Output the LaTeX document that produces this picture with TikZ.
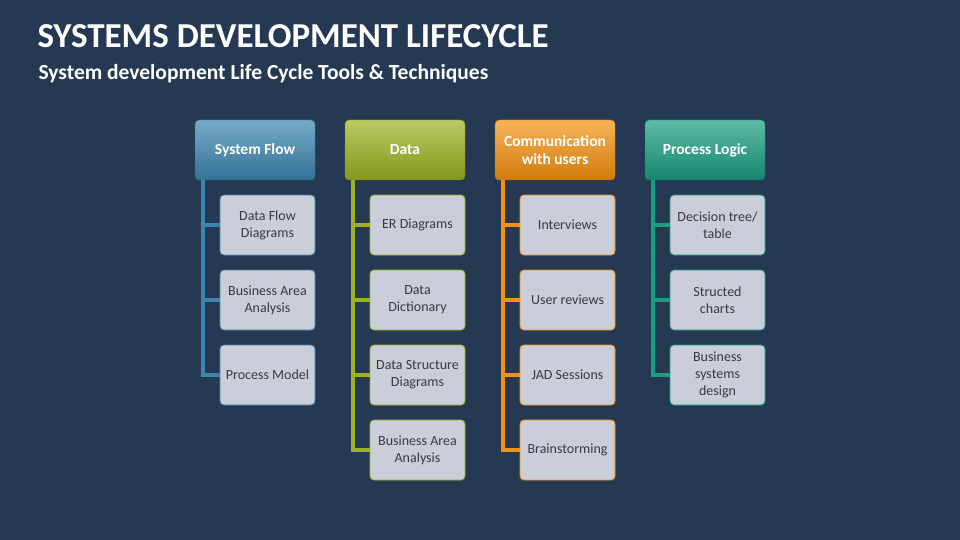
\documentclass[tikz,border=0pt]{standalone}
\usepackage{fontspec}
\setmainfont{Carlito}
\definecolor{bg}{HTML}{253A52}
\definecolor{cA}{HTML}{3D86B0}
\definecolor{cB}{HTML}{9BB321}
\definecolor{cC}{HTML}{F5920F}
\definecolor{cD}{HTML}{1A9E80}
\definecolor{kid}{HTML}{C9CED8}
\definecolor{kidtxt}{HTML}{3A3A3A}
\begin{document}
\begin{tikzpicture}[x=1pt,y=-1pt,
  head/.style={rounded corners=4pt,minimum width=120pt,minimum height=60pt,align=center,
    text=white,font=\bfseries\fontsize{15.5}{18}\selectfont,inner sep=2pt},
  kidbox/.style={rounded corners=4pt,fill=kid,minimum width=95pt,minimum height=60pt,
    align=center,text=kidtxt,font=\fontsize{14}{17}\selectfont,line width=0.8pt,inner sep=2pt},
  conn/.style={line width=4pt}]
\fill[bg] (0,0) rectangle (960,540);
\node[anchor=west,text=white,font=\bfseries\fontsize{35}{38}\selectfont] (title) at (34,36) {SYSTEMS DEVELOPMENT LIFECYCLE};
\node[anchor=west,text=white,font=\bfseries\fontsize{21.5}{25}\selectfont] (sub) at (35,74) {System development Life Cycle Tools \& Techniques};
\foreach \col/\x/\h/\items in {
  cA/195/System Flow/{Data Flow\\Diagrams,Business Area\\Analysis,Process Model},
  cB/345/Data/{ER Diagrams,Data\\Dictionary,Data Structure\\Diagrams,Business Area\\Analysis},
  cC/495/Communication\\with users/{Interviews,User reviews,JAD Sessions,Brainstorming},
  cD/645/Process Logic/{Decision tree/\\table,Structed\\charts,Business\\systems\\design}}{
  \node[head,top color=\col!70!white,bottom color=\col!85!black,draw=\col!80!black] (h\x) at (\x+60,150) {\h};
  \coordinate (top\x) at (\x+8,180);
  \foreach \t [count=\i] in \items {
    \node[kidbox,draw=\col] (k\x-\i) at (\x+72.5,150+75*\i) {\t};
    \coordinate (s\x-\i) at (\x+8,150+75*\i);
    \draw[conn,\col] (s\x-\i) -- (k\x-\i.west);
    \xdef\last{\i}
  }
  \draw[conn,\col] (top\x) -- ([yshift=-2pt]s\x-\last);
}
\end{tikzpicture}
\end{document}
